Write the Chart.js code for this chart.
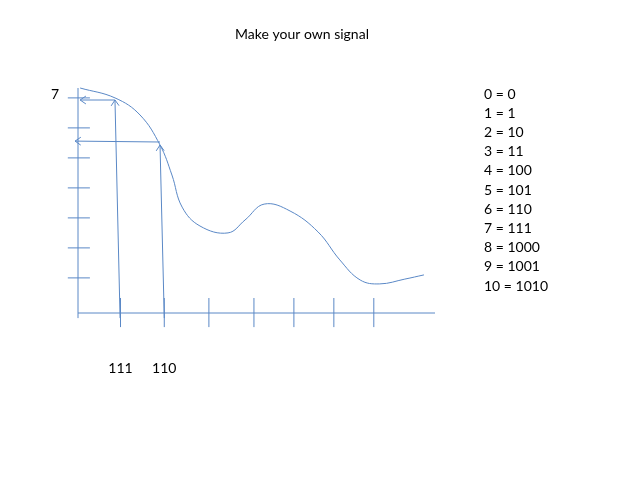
<!DOCTYPE html>
<html><head><meta charset="utf-8">
<script src="https://cdn.jsdelivr.net/npm/chart.js@4"></script>
<style>html,body{margin:0;padding:0;background:#fff}</style>
</head><body>
<canvas id="c" width="638" height="478"></canvas>
<script>
const title = "Make your own signal";
const curveX = [0.05,0.87,1.46,1.93,2.21,2.45,2.87,3.53,3.93,4.38,4.99,5.65,6.16,6.64,7.1,7.69,8.14];
const curveY = [7.5,7.17,6.6,5.6,4.6,3.53,2.9,2.67,3.1,3.63,3.4,2.7,1.77,1.1,0.97,1.13,1.27];
const xTicks = [1,2.03,3.08,4.14,5.08,6.02,6.96];
const yTicks = [1.17,2.17,3.17,4.17,5.17,6.17,7.17];
const xLabels = ["111","110"];
const legendLines = ["0 = 0","1 = 1","2 = 10","3 = 11","4 = 100","5 = 101","6 = 110","7 = 111","8 = 1000","9 = 1001","10 = 1010"];
const C = '#5a88c6';
const font = '14px Lato, "Open Sans", sans-serif';

const deco = {
  id:'deco',
  afterDatasetsDraw(ch){
    const ctx=ch.ctx, X=ch.scales.x, Y=ch.scales.y;
    const px=v=>X.getPixelForValue(v), py=v=>Y.getPixelForValue(v);
    ctx.save(); ctx.strokeStyle=C; ctx.lineWidth=1;
    const line=(a,b,c,d)=>{ctx.beginPath();ctx.moveTo(px(a),py(b));ctx.lineTo(px(c),py(d));ctx.stroke();};
    line(0,7.5,0,-0.17); line(0,0,8.4,0);
    xTicks.forEach(t=>line(t,0.5,t,-0.47));
    yTicks.forEach(t=>line(-0.24,t,0.28,t));
    const arrow=(a,b,c,d)=>{
      const x1=px(a),y1=py(b),x2=px(c),y2=py(d);
      ctx.beginPath();ctx.moveTo(x1,y1);ctx.lineTo(x2,y2);ctx.stroke();
      const ang=Math.atan2(y2-y1,x2-x1),L=7;
      ctx.beginPath();
      ctx.moveTo(x2-L*Math.cos(ang-0.6),y2-L*Math.sin(ang-0.6));
      ctx.lineTo(x2,y2);
      ctx.lineTo(x2-L*Math.cos(ang+0.6),y2-L*Math.sin(ang+0.6));
      ctx.stroke();
    };
    arrow(0.99,-0.17,0.87,7.1);
    arrow(0.87,7.1,0.05,7.1);
    arrow(2.03,-0.17,1.93,5.6);
    arrow(1.93,5.7,-0.07,5.73);
    ctx.fillStyle='#000'; ctx.font=font; ctx.textBaseline='middle';
    ctx.textAlign='center';
    ctx.fillText(title,302,34);
    ctx.fillText("7",55,94);
    xLabels.forEach((s,i)=>ctx.fillText(s,px(xTicks[i]),368));
    ctx.textAlign='left';
    legendLines.forEach((s,i)=>ctx.fillText(s,484,94+i*19.2));
    ctx.restore();
  }
};

new Chart(document.getElementById('c'),{
  type:'scatter',
  data:{datasets:[{data:curveX.map((x,i)=>({x,y:curveY[i]})),showLine:true,tension:0.4,borderColor:C,borderWidth:1,pointRadius:0,fill:false}]},
  options:{responsive:false,animation:false,layout:{padding:0},
    plugins:{legend:{display:false},tooltip:{enabled:false}},
    scales:{x:{type:'linear',display:false,min:-78/42.5,max:(638-78)/42.5},
            y:{type:'linear',display:false,min:-165/30,max:313/30}}},
  plugins:[deco]
});
</script>
</body></html>
